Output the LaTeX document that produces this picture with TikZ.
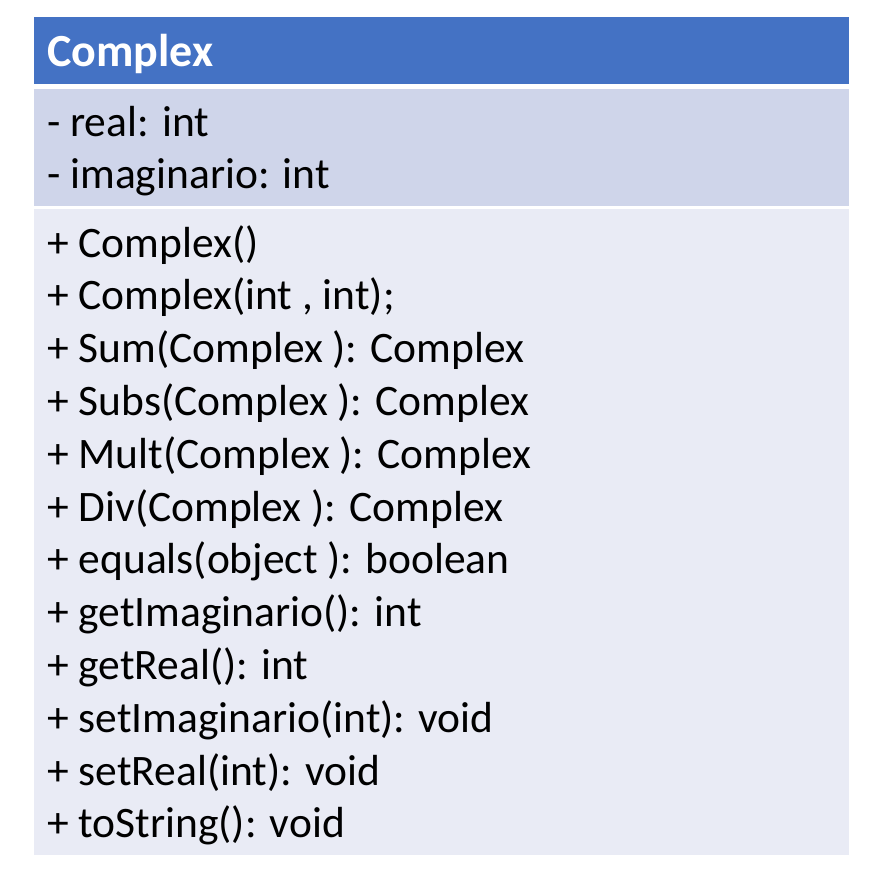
\documentclass[tikz,border=0pt]{standalone}
\usepackage{fontspec}
\setmainfont{Carlito}
\definecolor{hdr}{HTML}{4472C4}
\definecolor{attr}{HTML}{CFD5EA}
\definecolor{meth}{HTML}{E9EBF5}
\begin{document}
\begin{tikzpicture}[x=1pt,y=-1pt,
  txt/.style={anchor=base west,inner sep=0pt,font=\fontsize{43.5}{50}\selectfont}]
\useasboundingbox (0,0) rectangle (872,885);
\fill[hdr] (34,17) rectangle (849,84);
\fill[attr] (34,89) rectangle (849,206);
\fill[meth] (34,209) rectangle (849,855);
\node[txt,text=white,font=\fontsize{46}{52}\selectfont\bfseries] (h) at (47,67) {Complex};
\node[txt] (a1) at (47,137) {- real: int};
\node[txt] (a2) at (47,189) {- imaginario: int};
\foreach \t [count=\i from 0] in {+ Complex(),+ Complex(int {,} int);,+ Sum(Complex ): Complex,+ Subs(Complex ): Complex,+ Mult(Complex ): Complex,+ Div(Complex ): Complex,+ equals(object ): boolean,+ getImaginario(): int,+ getReal(): int,+ setImaginario(int): void,+ setReal(int): void,+ toString(): void}
  \node[txt] (m\i) at (47,{257+52.8*\i}) {\t};
\end{tikzpicture}
\end{document}
